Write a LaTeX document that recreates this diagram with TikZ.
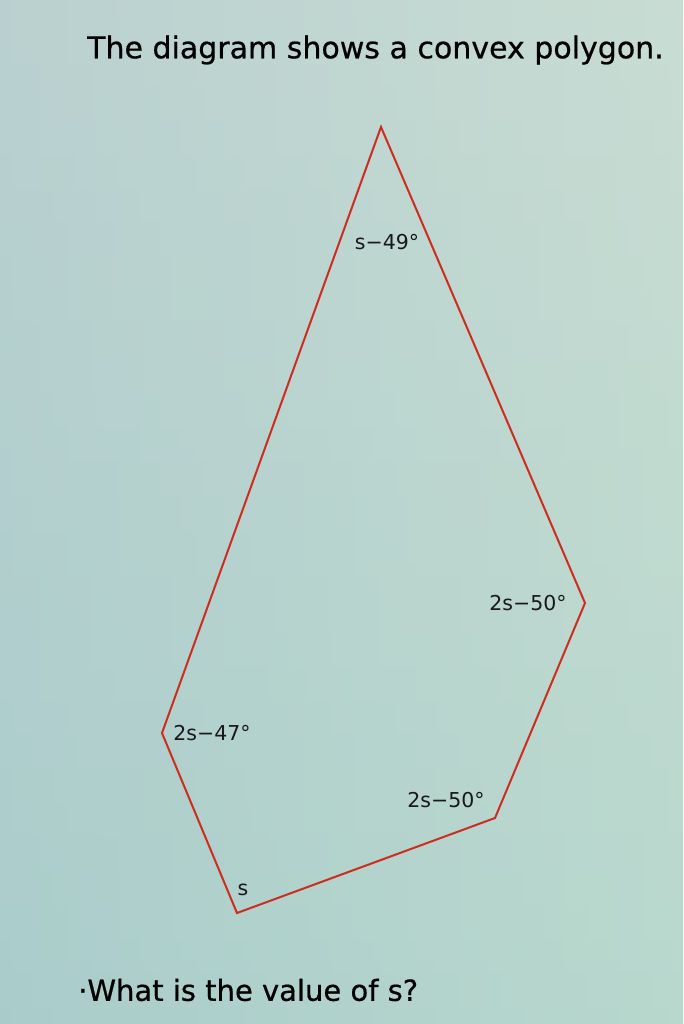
\documentclass[tikz,border=0pt]{standalone}
\usepackage{fontspec}
\setmainfont{DejaVu Sans}
\newfontfamily\headfont[FakeBold=0.6]{DejaVu Sans}
\begin{document}
\begin{tikzpicture}[x=1pt,y=-1pt,
  edge/.style={draw={rgb,255:red,205;green,45;blue,30}, line width=2pt, line join=miter},
  anglelbl/.style={font=\fontsize{20.5}{22}\selectfont, text=black!90, inner sep=0pt},
  heading/.style={font=\headfont\fontsize{30}{34}\selectfont, text=black, inner sep=0pt}]
\useasboundingbox (0,0) rectangle (683,1024);
\shade[top color={rgb,255:red,208;green,218;blue,212}, bottom color={rgb,255:red,178;green,210;blue,202}] (0,0) rectangle (683,1024);
\shade[left color={rgb,255:red,160;green,198;blue,205}, right color={rgb,255:red,192;green,224;blue,210}, opacity=0.45] (0,0) rectangle (683,1024);
\node[heading, anchor=west] (title) at (87,50) {The diagram shows a convex polygon.};
\coordinate (A) at (381,127);
\coordinate (B) at (585,603);
\coordinate (C) at (495,818);
\coordinate (D) at (237,913);
\coordinate (E) at (162,733);
\draw[edge] (A) -- (B) -- (C) -- (D) -- (E) -- cycle;
\node[anglelbl] (la) at (387,242) {s−49°};
\node[anglelbl] (lb) at (528,603) {2s−50°};
\node[anglelbl] (lc) at (446,800) {2s−50°};
\node[anglelbl] (ld) at (212,733) {2s−47°};
\node[anglelbl] (le) at (243,890) {s};
\node[heading, font=\headfont\fontsize{29}{32}\selectfont, anchor=west] (question) at (78,990) {·What is the value of s?};
\end{tikzpicture}
\end{document}
